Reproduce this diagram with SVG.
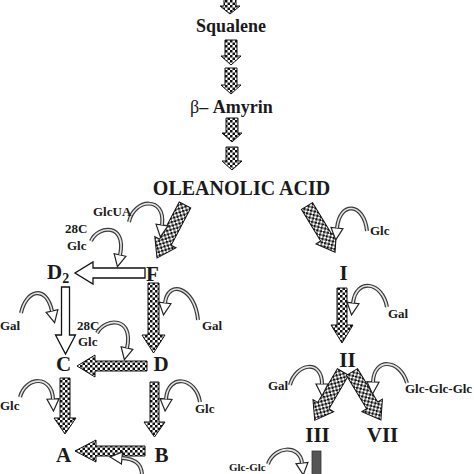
<svg xmlns="http://www.w3.org/2000/svg" width="474" height="474" viewBox="0 0 474 474">
<style>
.chk{fill:url(#chk);stroke:#111;stroke-width:1}
.open{fill:#fff;stroke:#111;stroke-width:1.3}
.co{fill:none;stroke:#3a3a3a;stroke-width:4;marker-end:url(#oh)}
.ci{fill:none;stroke:#e4e4e4;stroke-width:1.6}
.lbl{font-family:"Liberation Serif","Times New Roman",serif;font-weight:bold;fill:#1a1a1a}
.sm{font-size:13px}
.big{font-size:21px;text-anchor:middle}
.mid{font-size:18px;text-anchor:middle}
</style>
<defs>
<pattern id="chk" width="5" height="5" patternUnits="userSpaceOnUse">
<rect width="5" height="5" fill="#fff"/>
<rect width="2.5" height="2.5" fill="#111"/>
<rect x="2.5" y="2.5" width="2.5" height="2.5" fill="#111"/>
</pattern>
<marker id="oh" viewBox="0 0 14 14" refX="1" refY="7" markerWidth="14" markerHeight="14" markerUnits="userSpaceOnUse" orient="auto">
<path d="M1,1 L13,7 L1,13 Z" fill="#fff" stroke="#222" stroke-width="1.2"/>
</marker>
</defs>
<rect width="474" height="474" fill="#fff"/>

<g id="connectors">
<polygon class="chk" points="224,-1 236,-1 236,6 240,6 230,14 220,6 224,6"/>
<polygon class="chk" points="225,40 237,40 237,56 241,56 231,65 221,56 225,56"/>
<polygon class="chk" points="225,68 237,68 237,85 241,85 231,94 221,85 225,85"/>
<polygon class="chk" points="226,118 238,118 238,133 242,133 232,142 222,133 226,133"/>
<polygon class="chk" points="226,147 238,147 238,161 242,161 232,170 222,161 226,161"/>
<polygon class="chk" transform="translate(185,205) rotate(27.8)" points="-6.5,0 6.5,0 6.5,42 12,42 0,60 -12,42 -6.5,42"/>
<polygon class="chk" transform="translate(307,206) rotate(-31.3)" points="-6.5,0 6.5,0 6.5,37 12,37 0,54 -12,37 -6.5,37"/>
<polygon class="chk" transform="translate(343,372) rotate(30.3)" points="-6.5,0 6.5,0 6.5,39 12,39 0,56 -12,39 -6.5,39"/>
<polygon class="chk" transform="translate(352,372) rotate(-31.1)" points="-6.5,0 6.5,0 6.5,39 12,39 0,56 -12,39 -6.5,39"/>
<polygon class="open" points="145,268 93,268 93,262 75,273 93,284 93,278 145,278"/>
<polygon class="open" points="61.5,287 69.5,287 69.5,335 75.5,335 65.5,354 55.5,335 61.5,335"/>
<polygon class="chk" points="148,283 159,283 159,335 165,335 153.5,353 142,335 148,335"/>
<polygon class="chk" points="147,361 95,361 95,355 77,366 95,377 95,371 147,371"/>
<polygon class="chk" points="60,378 70,378 70,418 76,418 65,434 54,418 60,418"/>
<polygon class="chk" points="150,382 159,382 159,422 165,422 154.5,437 144,422 150,422"/>
<polygon class="chk" points="145,446 96,446 96,440 75,451 96,462 96,456 145,456"/>
<polygon class="chk" points="337,288 347,288 347,325 353,325 342,343 331,325 337,325"/>
<rect x="312" y="451" width="9" height="25" fill="#555" stroke="#333" stroke-width="0.8"/>

<path class="co" d="M129,222 C134,198 166,196 162,225"/>
<path class="ci" d="M129,222 C134,198 166,196 162,225"/>
<path class="co" d="M91,241 C98,225 127,223 120,255"/>
<path class="ci" d="M91,241 C98,225 127,223 120,255"/>
<path class="co" d="M21,313 C26,290 46,284 52,311"/>
<path class="ci" d="M21,313 C26,290 46,284 52,311"/>
<path class="co" d="M97,333 C106,317 134,317 127,348"/>
<path class="ci" d="M97,333 C106,317 134,317 127,348"/>
<path class="co" d="M198,320 C195,287 168,279 165,303"/>
<path class="ci" d="M198,320 C195,287 168,279 165,303"/>
<path class="co" d="M20,397 C26,376 52,375 53,399"/>
<path class="ci" d="M20,397 C26,376 52,375 53,399"/>
<path class="co" d="M200,402 C196,377 168,373 166,399"/>
<path class="ci" d="M200,402 C196,377 168,373 166,399"/>
<path class="co" d="M142,476 C142,462 133,459 122,458"/>
<path class="ci" d="M142,476 C142,462 133,459 122,458"/>
<path class="co" d="M367,231 C364,203 340,200 337,228"/>
<path class="ci" d="M367,231 C364,203 340,200 337,228"/>
<path class="co" d="M387,307 C382,281 356,278 353,303"/>
<path class="ci" d="M387,307 C382,281 356,278 353,303"/>
<path class="co" d="M290,385 C296,363 322,359 322,384"/>
<path class="ci" d="M290,385 C296,363 322,359 322,384"/>
<path class="co" d="M407,383 C400,359 374,357 373,382"/>
<path class="ci" d="M407,383 C400,359 374,357 373,382"/>
<path class="co" d="M268,464 C274,446 300,444 302,463"/>
<path class="ci" d="M268,464 C274,446 300,444 302,463"/>
</g>

<g id="node-squalene"><text class="lbl mid" x="231" y="32">Squalene</text></g>
<g id="node-amyrin"><text class="lbl" x="190" y="113" font-size="18px"><tspan font-weight="normal">β</tspan>– Amyrin</text></g>
<g id="node-oleanolic"><text class="lbl" x="241.5" y="195" font-size="20px" text-anchor="middle">OLEANOLIC ACID</text></g>

<g id="node-D2"><text class="lbl" x="47" y="279" font-size="21px">D<tspan font-size="14px" dy="4">2</tspan></text></g>
<g id="node-F"><text class="lbl big" x="152.5" y="281">F</text></g>
<g id="node-C"><text class="lbl big" x="63.5" y="371">C</text></g>
<g id="node-D"><text class="lbl big" x="161" y="371">D</text></g>
<g id="node-A"><text class="lbl big" x="63.5" y="462">A</text></g>
<g id="node-B"><text class="lbl big" x="161.5" y="462">B</text></g>
<g id="node-I"><text class="lbl big" x="343.5" y="280">I</text></g>
<g id="node-II"><text class="lbl big" x="347.5" y="367">II</text></g>
<g id="node-III"><text class="lbl big" x="317.5" y="442">III</text></g>
<g id="node-VII"><text class="lbl big" x="382.5" y="442">VII</text></g>

<g id="sugar-labels">
<text class="lbl sm" x="93" y="216">GlcUA</text>
<text class="lbl sm" x="65" y="233">28C</text>
<text class="lbl sm" x="67" y="250">Glc</text>
<text class="lbl sm" x="0" y="330">Gal</text>
<text class="lbl sm" x="77" y="330">28C</text>
<text class="lbl sm" x="78" y="346">Glc</text>
<text class="lbl sm" x="202" y="330">Gal</text>
<text class="lbl sm" x="0" y="410">Glc</text>
<text class="lbl sm" x="195" y="413">Glc</text>
<text class="lbl sm" x="370" y="235">Glc</text>
<text class="lbl sm" x="388" y="318">Gal</text>
<text class="lbl sm" x="268" y="390">Gal</text>
<text class="lbl sm" x="405" y="393">Glc-Glc-Glc</text>
<text class="lbl" x="229" y="471" font-size="11px">Glc-Glc</text>
</g>
</svg>
